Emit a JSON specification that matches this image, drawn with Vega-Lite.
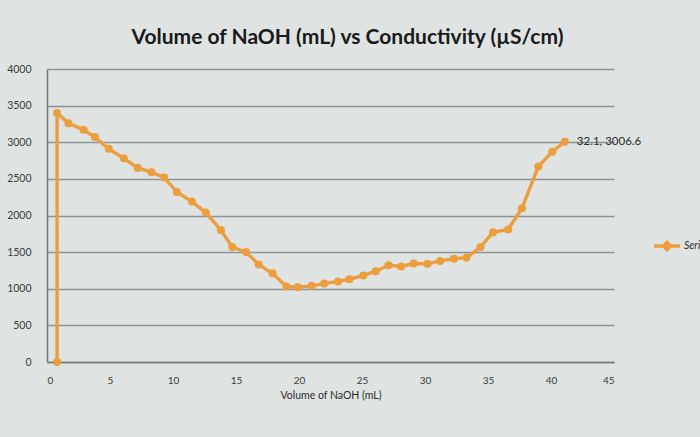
{
  "$schema": "https://vega.github.io/schema/vega-lite/v6.json",
  "width": 567,
  "height": 293,
  "autosize": {"type": "none"},
  "padding": {"left": 47, "top": 69, "right": 86, "bottom": 75},
  "background": "#dfe4e3",
  "title": {
    "text": "Volume of NaOH (mL) vs Conductivity (µS/cm)",
    "font": "Lato",
    "fontSize": 21,
    "fontWeight": "bold",
    "color": "#1a1a1a",
    "anchor": "middle",
    "offset": 16,
    "dx": 17
  },
  "config": {
    "view": {"stroke": null},
    "axis": {
      "labelFont": "Lato",
      "titleFont": "Lato",
      "labelColor": "#3a3a3a",
      "titleColor": "#2a2a2a",
      "ticks": false,
      "domainColor": "#6f777c",
      "domainWidth": 1.5,
      "gridColor": "#8a9398",
      "gridWidth": 1.5
    }
  },
  "data": {
    "values": [
      {"i": 0, "volume": 0.8, "conductivity": 0},
      {"i": 1, "volume": 0.8, "conductivity": 3400},
      {"i": 2, "volume": 1.7, "conductivity": 3260},
      {"i": 3, "volume": 2.9, "conductivity": 3170},
      {"i": 4, "volume": 3.8, "conductivity": 3070},
      {"i": 5, "volume": 4.9, "conductivity": 2910},
      {"i": 6, "volume": 6.1, "conductivity": 2780},
      {"i": 7, "volume": 7.2, "conductivity": 2650},
      {"i": 8, "volume": 8.3, "conductivity": 2590},
      {"i": 9, "volume": 9.3, "conductivity": 2520},
      {"i": 10, "volume": 10.3, "conductivity": 2320},
      {"i": 11, "volume": 11.5, "conductivity": 2190},
      {"i": 12, "volume": 12.6, "conductivity": 2040},
      {"i": 13, "volume": 13.8, "conductivity": 1800},
      {"i": 14, "volume": 14.7, "conductivity": 1570},
      {"i": 15, "volume": 15.8, "conductivity": 1500},
      {"i": 16, "volume": 16.8, "conductivity": 1330},
      {"i": 17, "volume": 17.9, "conductivity": 1210},
      {"i": 18, "volume": 19.0, "conductivity": 1030},
      {"i": 19, "volume": 19.9, "conductivity": 1020},
      {"i": 20, "volume": 21.0, "conductivity": 1040},
      {"i": 21, "volume": 22.0, "conductivity": 1070},
      {"i": 22, "volume": 23.1, "conductivity": 1100},
      {"i": 23, "volume": 24.0, "conductivity": 1130},
      {"i": 24, "volume": 25.1, "conductivity": 1180},
      {"i": 25, "volume": 26.1, "conductivity": 1240},
      {"i": 26, "volume": 27.1, "conductivity": 1320},
      {"i": 27, "volume": 28.1, "conductivity": 1305},
      {"i": 28, "volume": 29.1, "conductivity": 1345},
      {"i": 29, "volume": 30.2, "conductivity": 1340},
      {"i": 30, "volume": 31.2, "conductivity": 1380},
      {"i": 31, "volume": 32.3, "conductivity": 1410},
      {"i": 32, "volume": 33.3, "conductivity": 1425},
      {"i": 33, "volume": 34.4, "conductivity": 1570},
      {"i": 34, "volume": 35.4, "conductivity": 1770},
      {"i": 35, "volume": 36.6, "conductivity": 1810},
      {"i": 36, "volume": 37.7, "conductivity": 2100},
      {"i": 37, "volume": 39.0, "conductivity": 2670},
      {"i": 38, "volume": 40.1, "conductivity": 2870},
      {"i": 39, "volume": 41.1, "conductivity": 3006.6, "label": "32.1, 3006.6"}
    ]
  },
  "encoding": {
    "x": {
      "field": "volume",
      "type": "quantitative",
      "scale": {"domain": [0, 45], "nice": false},
      "axis": {
        "values": [0, 5, 10, 15, 20, 25, 30, 35, 40, 45],
        "format": "d",
        "grid": false,
        "labelFontSize": 10,
        "labelPadding": 13,
        "title": "Volume of NaOH (mL)",
        "titleFontSize": 10.5,
        "titleFontWeight": "normal",
        "titlePadding": 5
      }
    },
    "y": {
      "field": "conductivity",
      "type": "quantitative",
      "scale": {"domain": [0, 4000], "nice": false},
      "axis": {
        "values": [0, 500, 1000, 1500, 2000, 2500, 3000, 3500, 4000],
        "format": "d",
        "grid": true,
        "labelFontSize": 10.5,
        "labelPadding": 16,
        "title": null
      }
    }
  },
  "layer": [
    {
      "mark": {
        "type": "line",
        "strokeWidth": 3.4,
        "point": {"filled": true, "size": 65}
      },
      "encoding": {
        "order": {"field": "i", "type": "quantitative"},
        "color": {
          "datum": "Series1",
          "scale": {"range": ["#ec9e3e"]},
          "legend": {
            "title": null,
            "orient": "none",
            "legendX": 605,
            "legendY": 162,
            "padding": 0,
            "symbolType": "M-1,0H1M-0.28,0L0,-0.28L0.28,0L0,0.28Z",
            "symbolSize": 680,
            "symbolStrokeWidth": 3.4,
            "symbolFillColor": "#ec9e3e",
            "symbolStrokeColor": "#ec9e3e",
            "labelFont": "Lato",
            "labelFontSize": 10.5,
            "labelFontStyle": "italic",
            "labelColor": "#2a2a2a",
            "labelOffset": 2
          }
        }
      }
    },
    {
      "transform": [{"filter": "isValid(datum.label)"}],
      "mark": {
        "type": "text",
        "align": "left",
        "baseline": "middle",
        "dx": 12,
        "font": "Lato",
        "fontSize": 11.5,
        "color": "#2a2a2a"
      },
      "encoding": {
        "text": {"field": "label"}
      }
    }
  ]
}
